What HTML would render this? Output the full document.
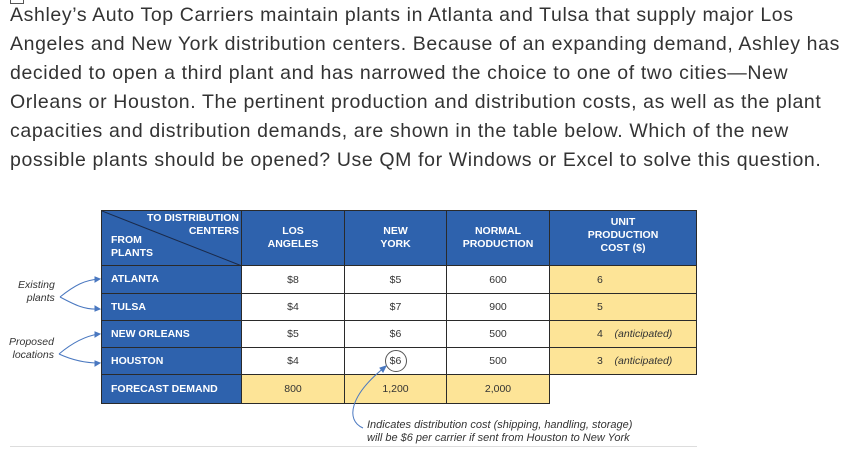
<!DOCTYPE html>
<html><head><meta charset="utf-8"><style>
body{margin:0;width:855px;height:466px;background:#fff;position:relative;overflow:hidden;font-family:"Liberation Sans",sans-serif}
.t{position:absolute;left:10px;font-size:19.5px;letter-spacing:0.62px;color:#333;white-space:nowrap}
.c{position:absolute;box-sizing:border-box;border:1px solid #2a2a2a;font-size:10.5px;display:flex;align-items:center;justify-content:center;text-align:center;color:#333}
.b{background:#2e62ad;color:#fff;font-weight:bold;font-size:10.5px;line-height:13px}
.l{justify-content:flex-start;padding-left:9px}
.y{background:#fde497}
.w{background:#fff}
.note{position:absolute;font-style:italic;font-size:10.5px;color:#333;white-space:nowrap}
</style></head><body>
<div style="position:absolute;left:10px;top:-6px;width:12px;height:8px;border:1.5px solid #555"></div>
<div>
<div class="t" style="top:4px">Ashley’s Auto Top Carriers maintain plants in Atlanta and Tulsa that supply major Los</div>
<div class="t" style="top:33px">Angeles and New York distribution centers. Because of an expanding demand, Ashley has</div>
<div class="t" style="top:62px">decided to open a third plant and has narrowed the choice to one of two cities—New</div>
<div class="t" style="top:91px">Orleans or Houston. The pertinent production and distribution costs, as well as the plant</div>
<div class="t" style="top:120px">capacities and distribution demands, are shown in the table below. Which of the new</div>
<div class="t" style="top:149px">possible plants should be opened? Use QM for Windows or Excel to solve this question.</div>
</div>
<div>
<div class="c b" style="left:101px;top:210px;width:141px;height:56px;display:block">
<svg width="141" height="56" style="position:absolute;left:0;top:0"><line x1="0" y1="0" x2="140" y2="55" stroke="#1a2a4a" stroke-width="1"/></svg>
<div style="position:absolute;right:2px;top:1px;text-align:right;line-height:13px">TO DISTRIBUTION<br>CENTERS</div>
<div style="position:absolute;left:9px;top:23px;text-align:left;line-height:13px">FROM<br>PLANTS</div>
</div>
<div class="c b" style="left:241px;top:210px;width:104px;height:56px">LOS<br>ANGELES</div>
<div class="c b" style="left:344px;top:210px;width:103px;height:56px">NEW<br>YORK</div>
<div class="c b" style="left:446px;top:210px;width:104px;height:56px">NORMAL<br>PRODUCTION</div>
<div class="c b" style="left:549px;top:210px;width:148px;height:56px;padding-bottom:6px">UNIT<br>PRODUCTION<br>COST ($)</div>

<div class="c b l" style="left:101px;top:265px;width:141px;height:29px">ATLANTA</div>
<div class="c w" style="left:241px;top:265px;width:104px;height:29px">$8</div>
<div class="c w" style="left:344px;top:265px;width:103px;height:29px">$5</div>
<div class="c w" style="left:446px;top:265px;width:104px;height:29px">600</div>
<div class="c y l" style="left:549px;top:265px;width:148px;height:29px;padding-left:47px">6</div>

<div class="c b l" style="left:101px;top:293px;width:141px;height:28px">TULSA</div>
<div class="c w" style="left:241px;top:293px;width:104px;height:28px">$4</div>
<div class="c w" style="left:344px;top:293px;width:103px;height:28px">$7</div>
<div class="c w" style="left:446px;top:293px;width:104px;height:28px">900</div>
<div class="c y l" style="left:549px;top:293px;width:148px;height:28px;padding-left:47px">5</div>

<div class="c b l" style="left:101px;top:320px;width:141px;height:28px">NEW ORLEANS</div>
<div class="c w" style="left:241px;top:320px;width:104px;height:28px">$5</div>
<div class="c w" style="left:344px;top:320px;width:103px;height:28px">$6</div>
<div class="c w" style="left:446px;top:320px;width:104px;height:28px">500</div>
<div class="c y l" style="left:549px;top:320px;width:148px;height:28px;padding-left:47px">4&nbsp;&nbsp;&nbsp;&nbsp;<i>(anticipated)</i></div>

<div class="c b l" style="left:101px;top:347px;width:141px;height:28px">HOUSTON</div>
<div class="c w" style="left:241px;top:347px;width:104px;height:28px">$4</div>
<div class="c w" style="left:344px;top:347px;width:103px;height:28px"><span style="display:inline-block;width:20px;height:20px;border:1px solid #555;border-radius:50%;line-height:20px">$6</span></div>
<div class="c w" style="left:446px;top:347px;width:104px;height:28px">500</div>
<div class="c y l" style="left:549px;top:347px;width:148px;height:28px;padding-left:47px">3&nbsp;&nbsp;&nbsp;&nbsp;<i>(anticipated)</i></div>

<div class="c b l" style="left:101px;top:374px;width:141px;height:30px">FORECAST DEMAND</div>
<div class="c y" style="left:241px;top:374px;width:104px;height:30px">800</div>
<div class="c y" style="left:344px;top:374px;width:103px;height:30px">1,200</div>
<div class="c y" style="left:446px;top:374px;width:104px;height:30px">2,000</div>
</div>

<div class="note" style="left:18px;top:279px;text-align:right;line-height:13px">Existing<br>&nbsp;&nbsp;&nbsp;plants</div>
<div class="note" style="left:9px;top:336px;text-align:right;line-height:13px">Proposed<br>locations</div>
<svg width="855" height="466" style="position:absolute;left:0;top:0" fill="none" stroke="#4a78c0" stroke-width="1">
<path d="M60 297 C75 285 85 280 99 279"/><path d="M60 297 C75 305 85 310 99 309"/>
<path d="M59 354 C72 343 85 336 99 334"/><path d="M59 354 C72 360 85 363 99 363"/>
<path d="M363 428 C345 420 350 395 385 367"/>
<path d="M95 277 L100 279 L95 282 Z M95 306 L100 309 L95 311 Z M95 332 L100 334 L95 337 Z M95 361 L100 363 L95 366 Z M380 368 L386 366 L383 372 Z" fill="#4a78c0"/>
</svg>
<div class="note" style="left:367px;top:419px;line-height:13px;font-size:11px">Indicates distribution cost (shipping, handling, storage)<br>will be $6 per carrier if sent from Houston to New York</div>
<div style="position:absolute;left:10px;top:446px;width:687px;height:1px;background:#ddd"></div>
</body></html>
